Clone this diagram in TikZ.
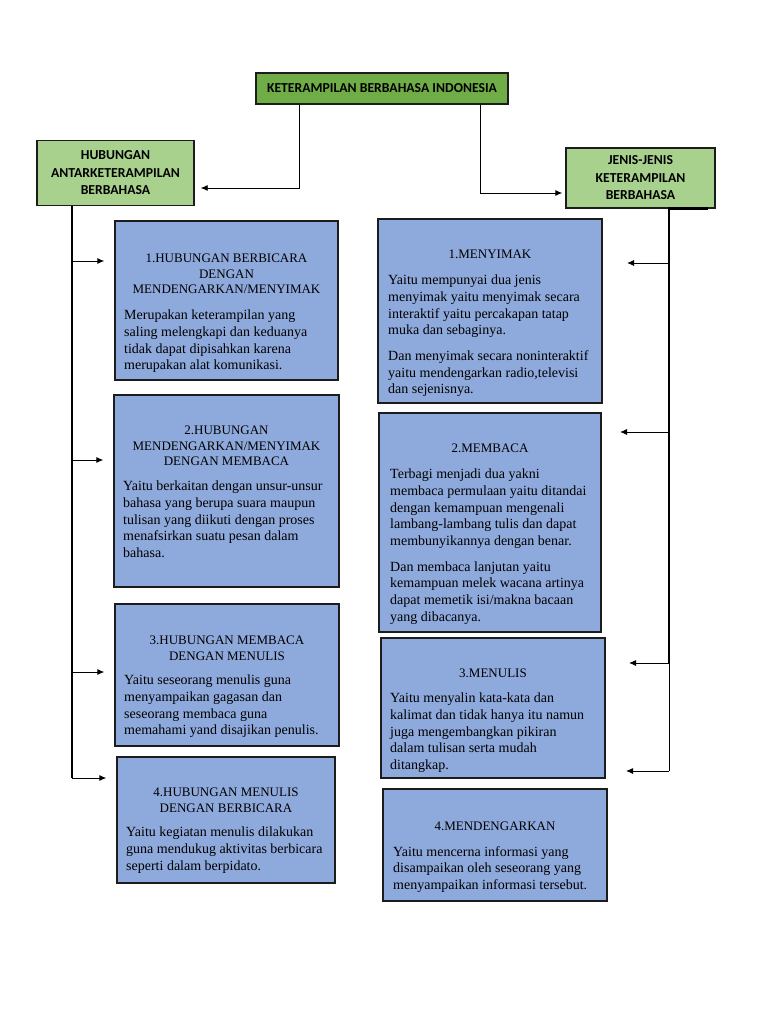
\documentclass[tikz,border=0pt]{standalone}
\usepackage{fontspec}
\setmainfont{Liberation Serif}
\newfontfamily\headfont{Carlito}
\usetikzlibrary{calc,arrows.meta}
\definecolor{topgreen}{HTML}{70AD47}
\definecolor{lightgreen}{HTML}{A9D18E}
\definecolor{boxblue}{HTML}{8EA9DB}
\definecolor{edge}{HTML}{1C1C1C}

\begin{document}
\begin{tikzpicture}[x=1pt,y=-1pt,
                        greenbox/.style={draw=edge, line width=1.4pt, align=center, inner sep=0pt,
                            font=\headfont\bfseries\fontsize{13.7}{17.5}\selectfont},
                        bluebox/.style={draw=edge, line width=1.4pt, fill=boxblue, inner sep=0pt},
                        heading/.style={anchor=north, align=center, inner sep=0pt,
                            font=\fontsize{13}{15.5}\selectfont},
                        bodytext/.style={anchor=north west, align=left, inner sep=0pt,
                            font=\fontsize{14}{16.6}\selectfont},
                        link/.style={line width=0.9pt, -{Latex[length=7pt,width=6pt]}},
                        trunk/.style={line width=1.4pt}]
                        \fill [white] (0,0) rectangle (768,1024);
                        \useasboundingbox (0,0) rectangle (768,1024);
                        % green headings
                        \node [greenbox, fill=topgreen, minimum width=252, minimum height=31] (top) at (382,88.5) {KETERAMPILAN BERBAHASA INDONESIA};
                        \node [greenbox, fill=lightgreen, minimum width=157, minimum height=65] (hub) at (115.5,173) {HUBUNGAN\\ANTARKETERAMPILAN\\BERBAHASA};
                        \node [greenbox, fill=lightgreen, minimum width=149, minimum height=60] (jenis) at (640.5,178) {JENIS-JENIS\\KETERAMPILAN\\BERBAHASA};
                        \draw [link, shorten >=6pt] (299,0 |- top.south) |- (hub.east |- 0,188);
                        \draw [link, shorten >=3pt] (480,0 |- top.south) |- (jenis.west |- 0,193);
                        % blue boxes
                        \foreach \name/\xa/\ya/\xb/\yb in {b1/115/221/338/380, b2/114/395/339/587, b3/115/604/339/746, b4/117/757/335/883,
                            r1/378/219/602/403, r2/379/413/601/632, r3/381/638/605/778, r4/383/789/607/901}
                        {
                            \node [bluebox, minimum width={(\xb-\xa)*1pt}, minimum height={(\yb-\ya)*1pt}] (\name) at ({(\xa+\xb)/2},{(\ya+\yb)/2}) {};
                        }
                        % left column
                        \node [heading] (b1t) at (226.5,254) {1.HUBUNGAN BERBICARA\\DENGAN\\MENDENGARKAN/MENYIMAK};
                        \node [bodytext] (b1b) at (124,310) {Merupakan keterampilan yang\\saling melengkapi dan keduanya\\tidak dapat dipisahkan karena\\merupakan alat komunikasi.};
                        \node [heading] (b2t) at (226.5,426) {2.HUBUNGAN\\MENDENGARKAN/MENYIMAK\\DENGAN MEMBACA};
                        \node [bodytext] (b2b) at (123,481) {Yaitu berkaitan dengan unsur-unsur\\bahasa yang berupa suara maupun\\tulisan yang diikuti dengan proses\\menafsirkan suatu pesan dalam\\bahasa.};
                        \node [heading] (b3t) at (227,636) {3.HUBUNGAN MEMBACA\\DENGAN MENULIS};
                        \node [bodytext] (b3b) at (124,675) {Yaitu seseorang menulis guna\\menyampaikan gagasan dan\\seseorang membaca guna\\memahami yand disajikan penulis.};
                        \node [heading] (b4t) at (226,788) {4.HUBUNGAN MENULIS\\DENGAN BERBICARA};
                        \node [bodytext] (b4b) at (126,827) {Yaitu kegiatan menulis dilakukan\\guna mendukug aktivitas berbicara\\seperti dalam berpidato.};
                        % right column
                        \node [heading] (r1t) at (490,250) {1.MENYIMAK};
                        \node [bodytext] (r1b) at (388,275) {Yaitu mempunyai dua jenis\\menyimak yaitu menyimak secara\\interaktif yaitu percakapan tatap\\muka dan sebaginya.\\[9.4pt]Dan menyimak secara noninteraktif\\yaitu mendengarkan radio,televisi\\dan sejenisnya.};
                        \node [heading] (r2t) at (490,444) {2.MEMBACA};
                        \node [bodytext] (r2b) at (390,469) {Terbagi menjadi dua yakni\\membaca permulaan yaitu ditandai\\dengan kemampuan mengenali\\lambang-lambang tulis dan dapat\\membunyikannya dengan benar.\\[9.4pt]Dan membaca lanjutan yaitu\\kemampuan melek wacana artinya\\dapat memetik isi/makna bacaan\\yang dibacanya.};
                        \node [heading] (r3t) at (493,669) {3.MENULIS};
                        \node [bodytext] (r3b) at (390,693) {Yaitu menyalin kata-kata dan\\kalimat dan tidak hanya itu namun\\juga mengembangkan pikiran\\dalam tulisan serta mudah\\ditangkap.};
                        \node [heading] (r4t) at (495,822) {4.MENDENGARKAN};
                        \node [bodytext] (r4b) at (393,846) {Yaitu mencerna informasi yang\\disampaikan oleh seseorang yang\\menyampaikan informasi tersebut.};
                        % left trunk
                        \draw [trunk] (72,0 |- hub.south) -- (72,778);
                        \foreach \y/\n in {261/b1,460/b2,672/b3,778/b4}
                        {
                            \draw [link, shorten >=10pt] (72,\y) -- (\n.west |- 0,\y);
                        }
                        % right trunk
                        \draw [line width=2.4pt] (708,0 |- jenis.south) -- (669,0 |- jenis.south) -- (669,663);
                        \draw [line width=0.9pt] (669,663) -- (669,771);
                        \foreach \y/\tx in {263/627,432/620,663/629,771/626}
                        {
                            \draw [link] (669,\y) -- (\tx,\y);
                        }
                    \end{tikzpicture}
\end{document}
